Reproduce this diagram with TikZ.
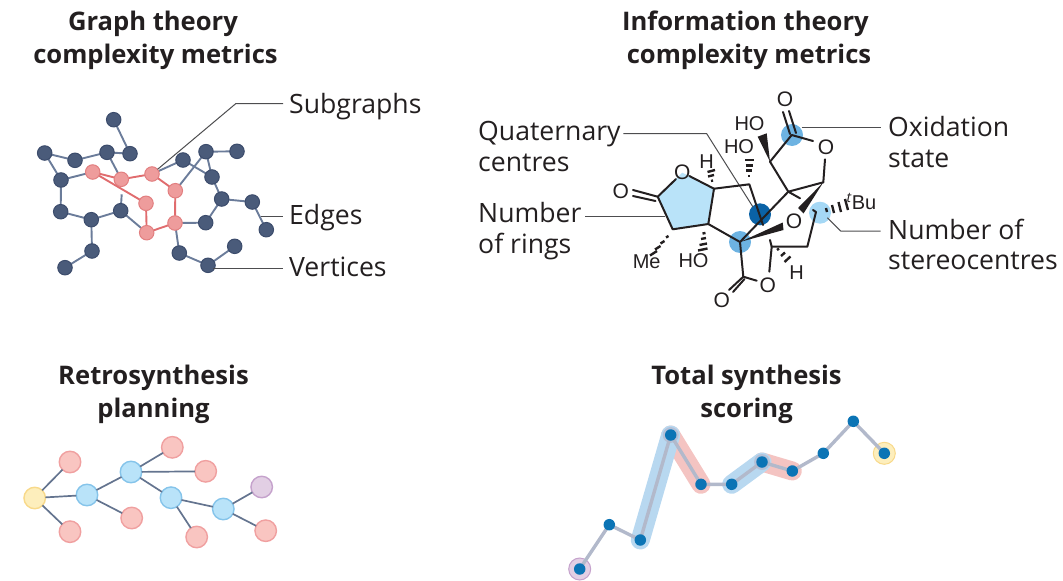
\documentclass[tikz,border=0pt]{standalone}
\usepackage{fontspec}
\setmainfont{Open Sans}
\newfontfamily\chemfont{Liberation Sans}
\usetikzlibrary{backgrounds,calc}
\definecolor{gnode}{HTML}{4A5B7A}\definecolor{gborder}{HTML}{3C4C6C}\definecolor{gedge}{HTML}{6B7C9A}
\definecolor{rnode}{HTML}{EE9C9C}\definecolor{rborder}{HTML}{E27F80}\definecolor{redge}{HTML}{E06C6E}
\definecolor{lblue}{HTML}{B9E3F9}\definecolor{lbluebd}{HTML}{85C4EA}
\definecolor{pfill}{HTML}{F9C5C1}\definecolor{pbd}{HTML}{F0A0A0}
\definecolor{yfill}{HTML}{FDEEBC}\definecolor{ybd}{HTML}{F8D98A}
\definecolor{vfill}{HTML}{E2CFE4}\definecolor{vbd}{HTML}{C5A2CC}
\definecolor{redge2}{HTML}{64748F}
\definecolor{ink}{HTML}{231F20}\definecolor{leader}{HTML}{4D4D4F}
\definecolor{dot}{HTML}{0B74B5}\definecolor{trace}{HTML}{B2B9CB}
\definecolor{bandb}{HTML}{B8D8F0}\definecolor{bandr}{HTML}{F4C4C2}
\definecolor{ringc}{HTML}{B4C1D8}
\definecolor{cdark}{HTML}{0A62A6}\definecolor{cmid}{HTML}{6DB3E2}\definecolor{cpale}{HTML}{A5D8F5}
\tikzset{
 x=1pt,y=-1pt,
 title/.style={font=\fontsize{25.6}{25.6}\selectfont\bfseries,text=ink,inner sep=0pt,anchor=base},
 lab/.style={font=\fontsize{26.6}{26.6}\selectfont,text=ink,inner sep=0pt,anchor=base west},
 gv/.style={circle,draw=gborder,fill=gnode,line width=1pt,minimum size=14.5pt,inner sep=0pt,outer sep=0pt},
 gr/.style={circle,draw=rborder,fill=rnode,line width=1pt,minimum size=14.5pt,inner sep=0pt,outer sep=0pt},
 ge/.style={draw=gedge,line width=1.9pt},
 re/.style={draw=redge,line width=1.9pt},
 lead/.style={draw=leader,line width=1pt},
 rb/.style={circle,draw=lbluebd,fill=lblue,line width=1.4pt,minimum size=21.5pt,inner sep=0pt,outer sep=0pt},
 rp/.style={circle,draw=pbd,fill=pfill,line width=1.4pt,minimum size=21.5pt,inner sep=0pt,outer sep=0pt},
 ry/.style={circle,draw=ybd,fill=yfill,line width=1.4pt,minimum size=21.5pt,inner sep=0pt,outer sep=0pt},
 rv/.style={circle,draw=vbd,fill=vfill,line width=1.4pt,minimum size=21.5pt,inner sep=0pt,outer sep=0pt},
 rl/.style={draw=redge2,line width=1.7pt},
 sd/.style={circle,fill=dot,minimum size=11.5pt,inner sep=0pt,outer sep=0pt},
 bond/.style={draw=ink,line width=2pt,line cap=round,line join=round},
 hash/.style={draw=ink,line width=2.4pt},
 chem/.style={font=\chemfont\fontsize{21}{21}\selectfont,text=ink,inner sep=0pt},
 chems/.style={font=\chemfont\fontsize{20}{20}\selectfont,text=ink,inner sep=0pt},
}
\begin{document}
\begin{tikzpicture}
\useasboundingbox (0,0) rectangle (1063,581);
% titles
\node[title] (t1a) at (153,30.7) {Graph theory};
\node[title] (t1b) at (155.5,63.5) {complexity metrics};
\node[title] (t2a) at (745.5,30.7) {Information theory};
\node[title] (t2b) at (749,63.5) {complexity metrics};
\node[title] (t3a) at (153.5,384.7) {Retrosynthesis};
\node[title] (t3b) at (153.5,417.5) {planning};
\node[title] (t4a) at (746.5,384.7) {Total synthesis};
\node[title] (t4b) at (746.5,417.5) {scoring};
% graph nodes
\foreach \n/\x/\y in {a1/113.7/119.7,a2/130/153.7,a3/107/152.3,a4/75/160.3,a5/44.7/153,a6/61/180,a7/60.7/211.7,a8/91.3/219.7,a9/120.7/210.7,a10/92/251,a11/65/267.7,b1/183/160,b2/206/151.7,b3/237/151.3,b4/212/177,b5/221.7/199,b6/252.3/202,b7/266.3/229.7,b8/205.7/222.7,b9/179.3/253,b10/208/265.3,b11/234.7/246.3}
  \node[gv] (\n) at (\x,\y) {};
\foreach \n/\x/\y in {r1/92.7/172,r2/121.3/179.3,r3/152/174,r4/175.3/190.7,r5/146/203.3,r6/146.7/232.7,r7/175/223}
  \node[gr] (\n) at (\x,\y) {};
\coordinate (stub) at (121.7,194.3);
\begin{scope}[on background layer]
\foreach \p/\q in {a1/a2,a2/a3,a3/a4,a4/a5,a5/a6,a6/r1,a3/r2,a6/a7,a7/a8,a8/a9,a9/stub,a8/a10,a10/a11,a9/r6,r3/b1,b1/b4,b2/b3,b2/b4,b2/r4,b4/b5,b5/b6,b6/b7,b5/b8,b8/r7,r7/b9,b9/b10,b10/b11}
  \draw[ge] (\p) -- (\q);
\foreach \p/\q in {r1/r2,r2/r3,r3/r4,r4/r7,r7/r6,r6/r5,r5/r1}
  \draw[re] (\p) -- (\q);
\end{scope}
% graph labels
\node[lab] (subg) at (289,113) {Subgraphs};
\node[lab] (edg) at (289,224) {Edges};
\node[lab] (vert) at (289,276) {Vertices};
\coordinate (k1) at (235.7,103.7);
\coordinate (e1) at (283,103.7);
\coordinate (e2) at (283,216);
\coordinate (e3) at (283,268);
\coordinate (s2) at (260.7,216);
\coordinate (v2) at (213,268);
\draw[lead] (r3) -- (k1) -- (e1);
\draw[lead] (s2) -- (e2);
\draw[lead] (v2) -- (e3);
% chem labels
\node[lab] (qa) at (478,140.7) {Quaternary};
\node[lab] (qb) at (478,171.7) {centres};
\node[lab] (na) at (478,222.5) {Number};
\node[lab] (nb) at (478,253.5) {of rings};
\node[lab] (oa) at (888,136) {Oxidation};
\node[lab] (ob) at (888,167) {state};
\node[lab] (sa) at (888,239) {Number of};
\node[lab] (sb) at (888,269.5) {stereocentres};
% ring
\coordinate (P1) at (682.3,172.7);
\coordinate (P2) at (714,188.7);
\coordinate (P3) at (708.3,224);
\coordinate (P4) at (672.7,229.3);
\coordinate (P5) at (657.7,196.7);
\fill[lblue] (P1) -- (P2) -- (P3) -- (P4) -- (P5) -- cycle;
% highlight centres
\fill[cmid] (792,135) circle (11);
\fill[cmid] (740,242) circle (11);
\fill[cdark] (760,214.3) circle (11);
\fill[cpale] (820,212.7) circle (11);
% chem atoms
\coordinate (C1) at (749.3,184.3);
\coordinate (C2) at (763,225);
\coordinate (C3) at (740,242);
\coordinate (C4) at (788.3,191.7);
\coordinate (C5) at (823.3,182.3);
\coordinate (C6) at (770,161.7);
\coordinate (C7) at (791.7,135);
\coordinate (C8) at (816,212);
\coordinate (C9) at (807.3,246.7);
\coordinate (C10) at (771.7,246.7);
\coordinate (C11) at (743.3,276.7);
% leaders
\coordinate (q1) at (623.3,133.7);\coordinate (q2) at (706.7,133.7);\coordinate (q3) at (753,207);
\draw[lead] (q1) -- (q2) -- (q3);
\coordinate (n1) at (585,216.7);\coordinate (n2) at (665,216.7);
\draw[lead] (n1) -- (n2);
\coordinate (o1) at (801.7,127.7);\coordinate (o2) at (880.7,127.7);
\draw[lead] (o1) -- (o2);
\coordinate (s1) at (827.3,217.7);\coordinate (s3) at (840.7,231);\coordinate (s4) at (880.7,231);
\draw[lead] (s1) -- (s3) -- (s4);
% bonds
\draw[bond] (676,179) -- (P5) -- (P4) -- (P3) -- (P2) -- (689.3,176);
\draw[bond] (P5) -- (633,190); \draw[bond] (655.5,201) -- (633,196);
\draw[bond] (P2) -- (C1) -- (C2);
\draw[bond] (P3) -- (C3) -- (C4) -- (C5);
\draw[bond] (C4) -- (C6) -- (C7);
\draw[bond] (C4) -- (800,198.3);
\draw[bond] (C7) -- (813,141);
\draw[bond] (825,159.3) -- (C5);
\draw[bond] (783,112) -- (790,134); \draw[bond] (789,111) -- (796,133);
\draw[bond] (813,210) -- (C8) -- (C9) -- (C10) -- (770,240);
\draw[bond] (C10) -- (769.3,271.7);
\draw[bond] (C3) -- (C11) -- (756.7,280.7);
\draw[bond] (C11) -- (729,290); \draw[bond] (744.5,279) -- (733,292);
% wedges
\fill[ink] (C6) -- (757.7,136.7) -- (766.7,133.3) -- cycle;
\fill[ink] (C5) -- (798,208) -- (803.5,213.5) -- cycle;
\fill[ink] (C3) -- (782.7,222.5) -- (783.5,230) -- cycle;
% hashes
\foreach \xa/\ya/\xb/\yb in {
 668.5/236/666/237.5, 664.5/241/660.5/243.5, 660.5/246/655/249.5, 657/251/650/255.5,
 705.5/233/702.5/233.5, 706/238/701/239, 707/243.5/699.5/245, 707.5/248.5/698/250.5,
 748/176/750/176, 746/170.5/752/170.5, 745.5/165.5/752.5/165.5, 745/160/753.5/160,
 711/181/713/180.5, 708/176.5/714/175, 707.5/172/715/170,
 777/250/779/248.5, 781/256/785/252.5, 784.5/262/790.5/256.5,
 826/208/827/212, 832/205/834/213, 838.5/202/841/212, 845/199/848/210}
  \draw[hash] (\xa,\ya) -- (\xb,\yb);
% atom labels
\node[chem] (O1) at (682.3,172.5) {O};
\node[chem] (O2) at (620.7,191.7) {O};
\node[chem] (O3) at (785,99) {O};
\node[chem] (O4) at (826,147) {O};
\node[chem] (O5) at (794,221.7) {O};
\node[chem] (O6) at (767.7,285.7) {O};
\node[chem] (O7) at (721.7,300.7) {O};
\node[chems] (HOa) at (749.5,123.5) {HO};
\node[chems] (HOb) at (739,147) {HO};
\node[chems] (HOc) at (693.5,260.5) {HO};
\node[chems] (Me) at (646.7,261.7) {Me};
\node[chems] (H1) at (706.7,161.7) {H};
\node[chems] (H2) at (796.7,272.7) {H};
\node[chems] (tBu) at (861.5,201.5) {$^{\mathit{t}}$Bu};
% retrosynthesis
\node[ry] (y) at (34.7,498) {};
\node[rp] (p1) at (70,462) {};
\node[rp] (p2) at (70,531.7) {};
\node[rb] (c1) at (87,495) {};
\node[rb] (c2) at (131,472) {};
\node[rp] (p3) at (131.7,518) {};
\node[rp] (p4) at (172.3,447.3) {};
\node[rp] (p5) at (205.7,471.3) {};
\node[rb] (c3) at (171,497.7) {};
\node[rp] (p6) at (196.7,537) {};
\node[rb] (c4) at (223.3,509) {};
\node[rv] (v) at (261.7,487) {};
\node[rp] (p7) at (265.7,530.7) {};
\foreach \p/\q in {y/p1,y/p2,y/c1,c1/c2,c1/p3,c2/p4,c2/p5,c2/c3,c3/p6,c3/c4,c4/v,c4/p7}
  \draw[rl] (\p) -- (\q);
% scoring
\foreach \n/\x/\y in {d1/579.7/569,d2/609.3/524.7,d3/640.3/540,d4/670.7/435,d5/701/484.3,d6/731.7/484.3,d7/762/462,d8/792.3/471,d9/823.3/453.3,d10/853.3/421.3,d11/884.3/453.3}
  \coordinate (\n) at (\x,\y);
\draw[bandr,line width=19pt,line cap=round] (d4) -- (d5);
\draw[bandr,line width=19pt,line cap=round] (d7) -- (d8);
\draw[bandb,line width=19pt,line cap=round] (d3) -- (d4);
\draw[bandb,line width=19pt,line cap=round] (d6) -- (d7);
\fill[ringc] (d4) circle (8);
\fill[ringc] (d7) circle (8);
\draw[fill=vfill,draw=vbd,line width=1pt] (d1) circle (11);
\draw[fill=yfill,draw=ybd,line width=1pt] (d11) circle (11);
\draw[trace,line width=3.4pt,line join=round] (d1) -- (d2) -- (d3) -- (d4) -- (d5) -- (d6) -- (d7) -- (d8) -- (d9) -- (d10) -- (d11);
\foreach \n in {d1,d2,d3,d4,d5,d6,d7,d8,d9,d10,d11}
  \node[sd] (s\n) at (\n) {};
\end{tikzpicture}
\end{document}
